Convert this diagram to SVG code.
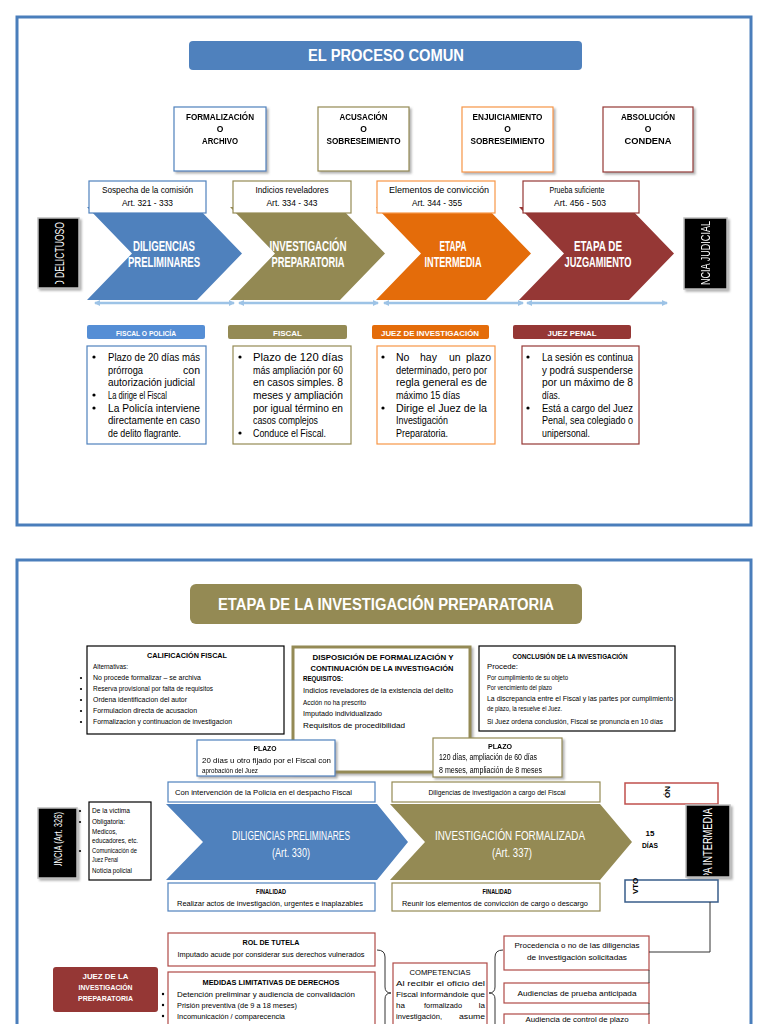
<svg xmlns="http://www.w3.org/2000/svg" width="768" height="1024" viewBox="0 0 768 1024">
<style>
text{font-family:"Liberation Sans",Arial,sans-serif;fill:#000}
.b{font-weight:bold}
.w{fill:#fff}
.c{text-anchor:middle}
.e{text-anchor:end}
.bx{fill:#fff;stroke-width:1.2}
.bl{stroke:#4F81BD}.ol{stroke:#948A54}.or{stroke:#F79646}.rd{stroke:#953735}.bk{stroke:#000}.rr{stroke:#B04A47}
.s8{font-size:8.5px}.s7{font-size:7.5px}.s10{font-size:10.5px}.s13{font-size:14px}
.con{fill:none;stroke:#333;stroke-width:1}
.dar{stroke:#9DC3E6;stroke-width:2.5;fill:none}
</style>
<defs>
<filter id="sh" x="-10%" y="-10%" width="130%" height="130%"><feDropShadow dx="2" dy="2" stdDeviation="1" flood-color="#808080" flood-opacity="0.6"/></filter>
<marker id="ah" markerWidth="6" markerHeight="6" refX="5" refY="3" orient="auto-start-reverse" markerUnits="userSpaceOnUse" viewBox="0 0 6 6"><path d="M0,0 L6,3 L0,6 z" fill="#9DC3E6"/></marker>
<clipPath id="c1"><rect x="38" y="218" width="41" height="66"/></clipPath>
<clipPath id="c2"><rect x="38" y="808" width="39" height="58"/></clipPath>
<clipPath id="c3"><rect x="686" y="805" width="44" height="70"/></clipPath>
</defs>

<rect width="768" height="1024" fill="#fff"/>

<!-- ============ PANEL 1 ============ -->
<g id="panel1">
<rect x="17" y="17" width="734" height="508" fill="none" stroke="#4A7EBB" stroke-width="3"/>
</g>
<g id="title1">
<rect x="189" y="41" width="393" height="29" rx="4" fill="#4F81BD"/>
<text x="386" y="61" class="b w c" font-size="16" textLength="156" lengthAdjust="spacingAndGlyphs">EL PROCESO COMUN</text>
</g>

<g id="res1" filter="url(#sh)">
<rect x="174" y="107" width="92" height="64" class="bx bl"/>
<text x="220" y="120" class="b c s8" textLength="68" lengthAdjust="spacingAndGlyphs">FORMALIZACIÓN</text>
<text x="220" y="132" class="b c s8">O</text>
<text x="220" y="144" class="b c s8" textLength="36" lengthAdjust="spacingAndGlyphs">ARCHIVO</text>
</g>
<g id="res2" filter="url(#sh)">
<rect x="318" y="107" width="91" height="64" class="bx ol"/>
<text x="363.5" y="120" class="b c s8" textLength="48" lengthAdjust="spacingAndGlyphs">ACUSACIÓN</text>
<text x="363.5" y="132" class="b c s8">O</text>
<text x="363.5" y="144" class="b c s8" textLength="74" lengthAdjust="spacingAndGlyphs">SOBRESEIMIENTO</text>
</g>
<g id="res3" filter="url(#sh)">
<rect x="462" y="107" width="91" height="65" class="bx or"/>
<text x="507.5" y="120" class="b c s8" textLength="70" lengthAdjust="spacingAndGlyphs">ENJUICIAMIENTO</text>
<text x="507.5" y="132" class="b c s8">O</text>
<text x="507.5" y="144" class="b c s8" textLength="74" lengthAdjust="spacingAndGlyphs">SOBRESEIMIENTO</text>
</g>
<g id="res4" filter="url(#sh)">
<rect x="603" y="107" width="90" height="65" class="bx rd"/>
<text x="648" y="120" class="b c s8" textLength="54" lengthAdjust="spacingAndGlyphs">ABSOLUCIÓN</text>
<text x="648" y="132" class="b c s8">O</text>
<text x="648" y="144" class="b c s8" textLength="47" lengthAdjust="spacingAndGlyphs">CONDENA</text>
</g>

<!-- chevrons -->
<g id="ch1">
<polygon points="87,207 197,207 242,253.5 197,300 87,300 132,253.5" fill="#4F81BD"/>
<text x="164" y="251" class="b w c s13" textLength="62" lengthAdjust="spacingAndGlyphs">DILIGENCIAS</text>
<text x="164" y="267" class="b w c s13" textLength="72" lengthAdjust="spacingAndGlyphs">PRELIMINARES</text>
</g>
<g id="ch2">
<polygon points="230,207 340,207 385,253.5 340,300 230,300 275,253.5" fill="#938953"/>
<text x="308" y="251" class="b w c s13" textLength="77" lengthAdjust="spacingAndGlyphs">INVESTIGACIÓN</text>
<text x="308" y="267" class="b w c s13" textLength="73" lengthAdjust="spacingAndGlyphs">PREPARATORIA</text>
</g>
<g id="ch3">
<polygon points="376,207 486,207 531,253.5 486,300 376,300 421,253.5" fill="#E46C0A"/>
<text x="453" y="251" class="b w c s13" textLength="27" lengthAdjust="spacingAndGlyphs">ETAPA</text>
<text x="453" y="267" class="b w c s13" textLength="57" lengthAdjust="spacingAndGlyphs">INTERMEDIA</text>
</g>
<g id="ch4">
<polygon points="519,207 629,207 674,253.5 629,300 519,300 564,253.5" fill="#953735"/>
<text x="598" y="251" class="b w c s13" textLength="48" lengthAdjust="spacingAndGlyphs">ETAPA DE</text>
<text x="598" y="267" class="b w c s13" textLength="67" lengthAdjust="spacingAndGlyphs">JUZGAMIENTO</text>
</g>

<!-- label boxes over chevrons -->
<g id="lab1">
<rect x="89" y="181" width="117" height="32" class="bx bl"/>
<text x="147.5" y="193" class="c" font-size="9.5" textLength="91" lengthAdjust="spacingAndGlyphs">Sospecha de la comisión</text>
<text x="147.5" y="206" class="c" font-size="9.5" textLength="51" lengthAdjust="spacingAndGlyphs">Art. 321 - 333</text>
</g>
<g id="lab2">
<rect x="233" y="181" width="118" height="32" class="bx ol"/>
<text x="292" y="193" class="c" font-size="9.5" textLength="73" lengthAdjust="spacingAndGlyphs">Indicios reveladores</text>
<text x="292" y="206" class="c" font-size="9.5" textLength="51" lengthAdjust="spacingAndGlyphs">Art. 334 - 343</text>
</g>
<g id="lab3">
<rect x="377" y="181" width="118" height="32" class="bx or"/>
<text x="439" y="193" class="c" font-size="9.5" textLength="100" lengthAdjust="spacingAndGlyphs">Elementos de convicción</text>
<text x="437" y="206" class="c" font-size="9.5" textLength="50" lengthAdjust="spacingAndGlyphs">Art. 344 - 355</text>
</g>
<g id="lab4">
<rect x="523" y="181" width="116" height="32" class="bx rd"/>
<text x="577" y="193" class="c" font-size="9.5" textLength="55" lengthAdjust="spacingAndGlyphs">Prueba suficiente</text>
<text x="580" y="206" class="c" font-size="9.5" textLength="52" lengthAdjust="spacingAndGlyphs">Art. 456 - 503</text>
</g>

<!-- black side boxes -->
<g id="hecho" filter="url(#sh)">
<rect x="38" y="218" width="41" height="70" fill="#000" stroke="#BFBFBF" stroke-width="1.5"/>
</g>
<g clip-path="url(#c1)">
<text transform="translate(64,287) rotate(-90)" class="w" font-size="12" textLength="65" lengthAdjust="spacingAndGlyphs">O DELICTUOSO</text>
</g>
<g id="sentencia" filter="url(#sh)">
<rect x="684" y="218" width="43" height="71" fill="#000" stroke="#BFBFBF" stroke-width="1.5"/>
<text transform="translate(710,285) rotate(-90)" class="w" font-size="12" textLength="64" lengthAdjust="spacingAndGlyphs">NCIA JUDICIAL</text>
</g>

<!-- role labels -->
<g id="role1"><rect x="87" y="325" width="118" height="14" rx="2" fill="#558ED5"/>
<text x="146" y="335.5" class="b w c" font-size="8" textLength="60" lengthAdjust="spacingAndGlyphs">FISCAL O POLICÍA</text></g>
<g id="role2"><rect x="228" y="325" width="119" height="14" rx="2" fill="#948A54"/>
<text x="287.5" y="335.5" class="b w c" font-size="8" textLength="29" lengthAdjust="spacingAndGlyphs">FISCAL</text></g>
<g id="role3"><rect x="372" y="325" width="117" height="14" rx="2" fill="#E46C0A"/>
<text x="430" y="335.5" class="b w c" font-size="8" textLength="98" lengthAdjust="spacingAndGlyphs">JUEZ DE INVESTIGACIÓN</text></g>
<g id="role4"><rect x="513" y="325" width="118" height="14" rx="2" fill="#953735"/>
<text x="572" y="335.5" class="b w c" font-size="8" textLength="49" lengthAdjust="spacingAndGlyphs">JUEZ PENAL</text></g>

<!-- bullet boxes -->
<g id="det1">
<rect x="87" y="346" width="119" height="98" class="bx bl"/>
<circle cx="94" cy="357" r="1.6"/><circle cx="94" cy="395" r="1.6"/><circle cx="94" cy="408" r="1.6"/>
<text x="108" y="361" class="s10" textLength="92" lengthAdjust="spacingAndGlyphs">Plazo de 20 días más</text>
<text x="108" y="374" class="s10" textLength="35" lengthAdjust="spacingAndGlyphs">prórroga</text>
<text x="200" y="374" class="s10 e" textLength="17" lengthAdjust="spacingAndGlyphs">con</text>
<text x="108" y="386" class="s10" textLength="87" lengthAdjust="spacingAndGlyphs">autorización judicial</text>
<text x="108" y="399" class="s10" textLength="59" lengthAdjust="spacingAndGlyphs">La dirige el Fiscal</text>
<text x="108" y="412" class="s10" textLength="92" lengthAdjust="spacingAndGlyphs">La Policía interviene</text>
<text x="108" y="424" class="s10" textLength="92" lengthAdjust="spacingAndGlyphs">directamente en caso</text>
<text x="108" y="437" class="s10" textLength="73" lengthAdjust="spacingAndGlyphs">de delito flagrante.</text>
</g>
<g id="det2">
<rect x="233" y="346" width="118" height="98" class="bx ol"/>
<circle cx="240" cy="357" r="1.6"/><circle cx="240" cy="433" r="1.6"/>
<text x="253" y="361" class="s10" textLength="90" lengthAdjust="spacingAndGlyphs">Plazo de 120 días</text>
<text x="253" y="374" class="s10" textLength="90" lengthAdjust="spacingAndGlyphs">más ampliación por 60</text>
<text x="253" y="386" class="s10" textLength="90" lengthAdjust="spacingAndGlyphs">en casos simples. 8</text>
<text x="253" y="399" class="s10" textLength="90" lengthAdjust="spacingAndGlyphs">meses y ampliación</text>
<text x="253" y="412" class="s10" textLength="90" lengthAdjust="spacingAndGlyphs">por igual término en</text>
<text x="253" y="424" class="s10" textLength="65" lengthAdjust="spacingAndGlyphs">casos complejos</text>
<text x="253" y="437" class="s10" textLength="73" lengthAdjust="spacingAndGlyphs">Conduce el Fiscal.</text>
</g>
<g id="det3">
<rect x="377" y="346" width="118" height="98" class="bx or"/>
<circle cx="383" cy="357" r="1.6"/><circle cx="383" cy="408" r="1.6"/>
<text y="361" class="s10"><tspan x="396">No</tspan><tspan x="420">hay</tspan><tspan x="449">un</tspan><tspan x="466">plazo</tspan></text>
<text x="396" y="374" class="s10" textLength="91" lengthAdjust="spacingAndGlyphs">determinado, pero por</text>
<text x="396" y="386" class="s10" textLength="91" lengthAdjust="spacingAndGlyphs">regla general es de</text>
<text x="396" y="399" class="s10" textLength="64" lengthAdjust="spacingAndGlyphs">máximo 15 días</text>
<text x="396" y="412" class="s10" textLength="91" lengthAdjust="spacingAndGlyphs">Dirige el Juez de la</text>
<text x="396" y="424" class="s10" textLength="52" lengthAdjust="spacingAndGlyphs">Investigación</text>
<text x="396" y="437" class="s10" textLength="52" lengthAdjust="spacingAndGlyphs">Preparatoria.</text>
</g>
<g id="det4">
<rect x="522" y="346" width="117" height="98" class="bx rd"/>
<circle cx="528" cy="357" r="1.6"/><circle cx="528" cy="408" r="1.6"/>
<text x="542" y="361" class="s10" textLength="91" lengthAdjust="spacingAndGlyphs">La sesión es continua</text>
<text x="542" y="374" class="s10" textLength="91" lengthAdjust="spacingAndGlyphs">y podrá suspenderse</text>
<text x="542" y="386" class="s10" textLength="91" lengthAdjust="spacingAndGlyphs">por un máximo de 8</text>
<text x="542" y="399" class="s10" textLength="18" lengthAdjust="spacingAndGlyphs">días.</text>
<text x="542" y="412" class="s10" textLength="91" lengthAdjust="spacingAndGlyphs">Está a cargo del Juez</text>
<text x="542" y="424" class="s10" textLength="91" lengthAdjust="spacingAndGlyphs">Penal, sea colegiado o</text>
<text x="542" y="437" class="s10" textLength="48" lengthAdjust="spacingAndGlyphs">unipersonal.</text>
</g>

<!-- ============ PANEL 2 ============ -->
<g id="panel2">
<rect x="17" y="560" width="734" height="480" fill="none" stroke="#4A7EBB" stroke-width="3"/>
</g>
<g id="title2">
<rect x="190" y="584" width="392" height="40" rx="6" fill="#948A54"/>
<text x="386" y="610" class="b w c" font-size="16" textLength="336" lengthAdjust="spacingAndGlyphs">ETAPA DE LA INVESTIGACIÓN PREPARATORIA</text>
</g>

<g id="calif">
<rect x="87" y="646" width="197" height="88" class="bx bk"/>
<text x="187" y="658" class="b c" font-size="8" textLength="80" lengthAdjust="spacingAndGlyphs">CALIFICACIÓN FISCAL</text>
<text x="93" y="669" font-size="8" textLength="35" lengthAdjust="spacingAndGlyphs">Alternativas:</text>
<text x="93" y="680" font-size="7" textLength="108" lengthAdjust="spacingAndGlyphs">No procede formalizar – se archiva</text>
<text x="93" y="691" font-size="7" textLength="120" lengthAdjust="spacingAndGlyphs">Reserva provisional por falta de requisitos</text>
<text x="93" y="702" font-size="7" textLength="94" lengthAdjust="spacingAndGlyphs">Ordena identificacion del autor</text>
<text x="93" y="713" font-size="7" textLength="104" lengthAdjust="spacingAndGlyphs">Formulacion directa de acusacion</text>
<text x="93" y="724" font-size="7" textLength="139" lengthAdjust="spacingAndGlyphs">Formalizacion y continuacion de investigacion</text>
<circle cx="81" cy="678" r="1.1"/><circle cx="81" cy="689" r="1.1"/><circle cx="81" cy="700" r="1.1"/><circle cx="81" cy="711" r="1.1"/><circle cx="81" cy="722" r="1.1"/>
</g>

<g id="disp">
<rect x="293" y="647" width="177" height="125" fill="#fff" stroke="#948A54" stroke-width="3" filter="url(#sh)"/>
<text x="383" y="660" class="b c" font-size="8" textLength="141" lengthAdjust="spacingAndGlyphs">DISPOSICIÓN DE FORMALIZACIÓN Y</text>
<text x="382" y="671" class="b c" font-size="8" textLength="143" lengthAdjust="spacingAndGlyphs">CONTINUACIÓN DE LA INVESTIGACIÓN</text>
<text x="303" y="681" class="b" font-size="8" textLength="40" lengthAdjust="spacingAndGlyphs">REQUISITOS:</text>
<text x="303" y="693" font-size="7.5" textLength="150" lengthAdjust="spacingAndGlyphs">Indicios reveladores de la existencia del delito</text>
<text x="303" y="705" font-size="7.5" textLength="63" lengthAdjust="spacingAndGlyphs">Acción no ha prescrito</text>
<text x="303" y="716" font-size="7.5" textLength="79" lengthAdjust="spacingAndGlyphs">Imputado individualizado</text>
<text x="303" y="728" font-size="7.5" textLength="102" lengthAdjust="spacingAndGlyphs">Requisitos de procedibilidad</text>
</g>

<g id="concl">
<rect x="479" y="646" width="196" height="85" class="bx bk"/>
<text x="570" y="659" class="b c" font-size="8" textLength="115" lengthAdjust="spacingAndGlyphs">CONCLUSIÓN DE LA INVESTIGACIÓN</text>
<text x="487" y="669" font-size="8" textLength="31" lengthAdjust="spacingAndGlyphs">Procede:</text>
<text x="487" y="680" font-size="7" textLength="81" lengthAdjust="spacingAndGlyphs">Por cumplimiento de su objeto</text>
<text x="487" y="690" font-size="7" textLength="65" lengthAdjust="spacingAndGlyphs">Por vencimiento del plazo</text>
<text x="487" y="701" font-size="7" textLength="186" lengthAdjust="spacingAndGlyphs">La discrepancia entre el Fiscal y las partes por cumplimiento</text>
<text x="487" y="711" font-size="7" textLength="75" lengthAdjust="spacingAndGlyphs">de plazo, la resuelve el Juez.</text>
<text x="487" y="724" font-size="7" textLength="176" lengthAdjust="spacingAndGlyphs">Si Juez ordena conclusión, Fiscal se pronuncia en 10 días</text>
</g>

<g id="plazo1" filter="url(#sh)">
<rect x="197" y="740" width="138" height="36" class="bx bl"/>
<text x="265" y="751" class="b c" font-size="8" textLength="23" lengthAdjust="spacingAndGlyphs">PLAZO</text>
<text x="202" y="763" font-size="8" textLength="129" lengthAdjust="spacingAndGlyphs">20 días u otro fijado por el Fiscal con</text>
<text x="202" y="773" font-size="8" textLength="56" lengthAdjust="spacingAndGlyphs">aprobación del Juez</text>
</g>
<g id="plazo2" filter="url(#sh)">
<rect x="433" y="738" width="129" height="39" class="bx ol"/>
<text x="500" y="749" class="b c" font-size="8" textLength="24" lengthAdjust="spacingAndGlyphs">PLAZO</text>
<text x="439" y="760" font-size="8.5" textLength="98" lengthAdjust="spacingAndGlyphs">120 días, ampliación de 60 días</text>
<text x="439" y="773" font-size="8.5" textLength="103" lengthAdjust="spacingAndGlyphs">8 meses, ampliación de 8 meses</text>
</g>

<g id="conpol">
<rect x="168" y="782" width="207" height="20" class="bx bl"/>
<text x="175" y="795" font-size="8" textLength="177" lengthAdjust="spacingAndGlyphs">Con intervención de la Policía en el despacho Fiscal</text>
</g>
<g id="dilfis">
<rect x="392" y="782" width="208" height="20" class="bx ol"/>
<text x="497" y="795" class="c" font-size="7.5" textLength="137" lengthAdjust="spacingAndGlyphs">Diligencias de investigación a cargo del Fiscal</text>
</g>

<g id="dilprel">
<polygon points="166,804 377,804 408,842 377,880 166,880 203,842" fill="#4F81BD"/>
<text x="291" y="840" class="w c" font-size="13" textLength="118" lengthAdjust="spacingAndGlyphs">DILIGENCIAS PRELIMINARES</text>
<text x="291" y="857" class="w c" font-size="13" textLength="38" lengthAdjust="spacingAndGlyphs">(Art. 330)</text>
</g>
<g id="invform">
<polygon points="390,804 600,804 632,842 600,880 390,880 425,842" fill="#948A54"/>
<text x="510" y="840" class="w c" font-size="13" textLength="150" lengthAdjust="spacingAndGlyphs">INVESTIGACIÓN FORMALIZADA</text>
<text x="512" y="857" class="w c" font-size="13" textLength="40" lengthAdjust="spacingAndGlyphs">(Art. 337)</text>
</g>
<g id="dias15">
<text x="650" y="836" class="b c" font-size="8">15</text>
<text x="650" y="848" class="b c" font-size="8" textLength="16" lengthAdjust="spacingAndGlyphs">DÍAS</text>
</g>

<g id="fin1">
<rect x="168" y="883" width="207" height="28" class="bx bl"/>
<text x="271" y="894" class="b c" font-size="7.5" textLength="30" lengthAdjust="spacingAndGlyphs">FINALIDAD</text>
<text x="270" y="906" class="c" font-size="8" textLength="186" lengthAdjust="spacingAndGlyphs">Realizar actos de investigación, urgentes e inaplazables</text>
</g>
<g id="fin2">
<rect x="392" y="883" width="208" height="28" class="bx ol"/>
<text x="497" y="894" class="b c" font-size="7.5" textLength="29" lengthAdjust="spacingAndGlyphs">FINALIDAD</text>
<text x="495" y="906" class="c" font-size="8" textLength="186" lengthAdjust="spacingAndGlyphs">Reunir los elementos de convicción de cargo o descargo</text>
</g>

<g id="denuncia">
<rect x="38" y="808" width="39" height="70" fill="#000" stroke="#BFBFBF" stroke-width="1.5" filter="url(#sh)"/>
<g clip-path="url(#c2)">
<text transform="translate(62,869) rotate(-90)" class="w" font-size="11.5" textLength="57" lengthAdjust="spacingAndGlyphs">UNCIA (Art. 326)</text>
</g>
</g>
<g id="fuentes">
<rect x="89" y="802" width="62" height="78" class="bx bk"/>
<text x="92" y="813" font-size="7" textLength="38" lengthAdjust="spacingAndGlyphs">De la víctima</text>
<text x="92" y="824" font-size="7" textLength="33" lengthAdjust="spacingAndGlyphs">Obligatoria:</text>
<text x="92" y="834" font-size="7" textLength="25" lengthAdjust="spacingAndGlyphs">Medicos,</text>
<text x="92" y="843" font-size="7" textLength="46" lengthAdjust="spacingAndGlyphs">educadores, etc.</text>
<text x="92" y="853" font-size="7" textLength="45" lengthAdjust="spacingAndGlyphs">Comunicación de</text>
<text x="92" y="862" font-size="7" textLength="26" lengthAdjust="spacingAndGlyphs">Juez Penal</text>
<text x="92" y="873" font-size="7" textLength="40" lengthAdjust="spacingAndGlyphs">Noticia policial</text>
<circle cx="80" cy="811" r="1.1"/><circle cx="80" cy="822" r="1.1"/><circle cx="80" cy="851" r="1.1"/>
</g>

<g id="acusacion">
<rect x="625" y="783" width="93" height="21" fill="#fff" stroke="#C0504D" stroke-width="1.5"/>
<text transform="translate(670,798) rotate(-90)" class="b" font-size="8">ÓN</text>
</g>
<g id="intermedia">
<rect x="686" y="805" width="44" height="72" fill="#000" stroke="#BFBFBF" stroke-width="1.5" filter="url(#sh)"/>
<g clip-path="url(#c3)">
<text transform="translate(712,879) rotate(-90)" class="w" font-size="12" textLength="71" lengthAdjust="spacingAndGlyphs">PA INTERMEDIA</text>
</g>
</g>
<g id="sobres">
<rect x="625" y="880" width="93" height="22" fill="#fff" stroke="#385D8A" stroke-width="1.5"/>
<text transform="translate(638,894) rotate(-90)" class="b" font-size="8">VTO</text>
</g>

<g id="juez">
<rect x="53" y="967" width="105" height="45" rx="3" fill="#953735"/>
<text x="105.5" y="979" class="b w c" font-size="8" textLength="46" lengthAdjust="spacingAndGlyphs">JUEZ DE LA</text>
<text x="105.5" y="990" class="b w c" font-size="8" textLength="54" lengthAdjust="spacingAndGlyphs">INVESTIGACIÓN</text>
<text x="105.5" y="1001" class="b w c" font-size="8" textLength="55" lengthAdjust="spacingAndGlyphs">PREPARATORIA</text>
</g>

<g id="tutela">
<rect x="168" y="933" width="207" height="33" class="bx rr"/>
<text x="271" y="945" class="b c" font-size="8" textLength="57" lengthAdjust="spacingAndGlyphs">ROL DE TUTELA</text>
<text x="271" y="957" class="c" font-size="7.5" textLength="187" lengthAdjust="spacingAndGlyphs">Imputado acude por considerar sus derechos vulnerados</text>
</g>
<g id="medidas">
<rect x="168" y="972" width="207" height="70" class="bx rr"/>
<text x="271" y="985" class="b c" font-size="8" textLength="137" lengthAdjust="spacingAndGlyphs">MEDIDAS LIMITATIVAS DE DERECHOS</text>
<text x="177" y="997" font-size="7.5" textLength="178" lengthAdjust="spacingAndGlyphs">Detención preliminar y audiencia de convalidación</text>
<text x="177" y="1008" font-size="7.5" textLength="120" lengthAdjust="spacingAndGlyphs">Prisión preventiva (de 9 a 18 meses)</text>
<text x="177" y="1019" font-size="7.5" textLength="108" lengthAdjust="spacingAndGlyphs">Incomunicación / comparecencia</text>
<circle cx="163" cy="994" r="1.2"/><circle cx="163" cy="1005" r="1.2"/><circle cx="163" cy="1016" r="1.2"/>
</g>

<g id="compet">
<rect x="393" y="963" width="94" height="75" class="bx rr"/>
<text x="440" y="975" class="c" font-size="8" textLength="61" lengthAdjust="spacingAndGlyphs">COMPETENCIAS</text>
<text x="396" y="986" font-size="8" textLength="89" lengthAdjust="spacingAndGlyphs">Al recibir el oficio del</text>
<text x="396" y="997" font-size="8" textLength="89" lengthAdjust="spacingAndGlyphs">Fiscal informándole que</text>
<text x="396" y="1008" font-size="8">ha</text>
<text x="424" y="1008" font-size="8" textLength="38" lengthAdjust="spacingAndGlyphs">formalizado</text>
<text x="485" y="1008" class="e" font-size="8">la</text>
<text x="396" y="1019" font-size="8" textLength="46" lengthAdjust="spacingAndGlyphs">investigación,</text>
<text x="485" y="1019" class="e" font-size="8" textLength="26" lengthAdjust="spacingAndGlyphs">asume</text>
</g>

<g id="proced">
<rect x="504" y="936" width="145" height="34" class="bx rr"/>
<text x="577" y="948" class="c" font-size="8" textLength="125" lengthAdjust="spacingAndGlyphs">Procedencia o no de las diligencias</text>
<text x="577" y="960" class="c" font-size="8" textLength="100" lengthAdjust="spacingAndGlyphs">de investigación solicitadas</text>
</g>
<g id="audprueba">
<rect x="504" y="983" width="145" height="20" class="bx rr"/>
<text x="577" y="996" class="c" font-size="8" textLength="119" lengthAdjust="spacingAndGlyphs">Audiencias de prueba anticipada</text>
</g>
<g id="audplazo">
<rect x="504" y="1014" width="145" height="30" class="bx rr"/>
<text x="577" y="1022" class="c" font-size="7" textLength="103" lengthAdjust="spacingAndGlyphs">Audiencia de control de plazo</text>
</g>

<!-- connectors -->
<g id="connectors">
<line x1="95" y1="303" x2="234" y2="303" class="dar" marker-start="url(#ah)" marker-end="url(#ah)"/>
<line x1="239" y1="303" x2="378" y2="303" class="dar" marker-start="url(#ah)" marker-end="url(#ah)"/>
<line x1="384" y1="303" x2="523" y2="303" class="dar" marker-start="url(#ah)" marker-end="url(#ah)"/>
<line x1="527" y1="303" x2="667" y2="303" class="dar" marker-start="url(#ah)" marker-end="url(#ah)"/>
<path d="M649,952 H710 V902" class="con"/>
<path d="M649,970 V983 M649,1003 V1014" class="con"/>
<path d="M377,950 Q385,950 385,957 L385,987 Q385,993 391,993 Q385,993 385,999 L385,1030" class="con"/>
<path d="M503,950 Q495,950 495,957 L495,987 Q495,993 489,993 Q495,993 495,999 L495,1030" class="con"/>
</g>
</svg>
